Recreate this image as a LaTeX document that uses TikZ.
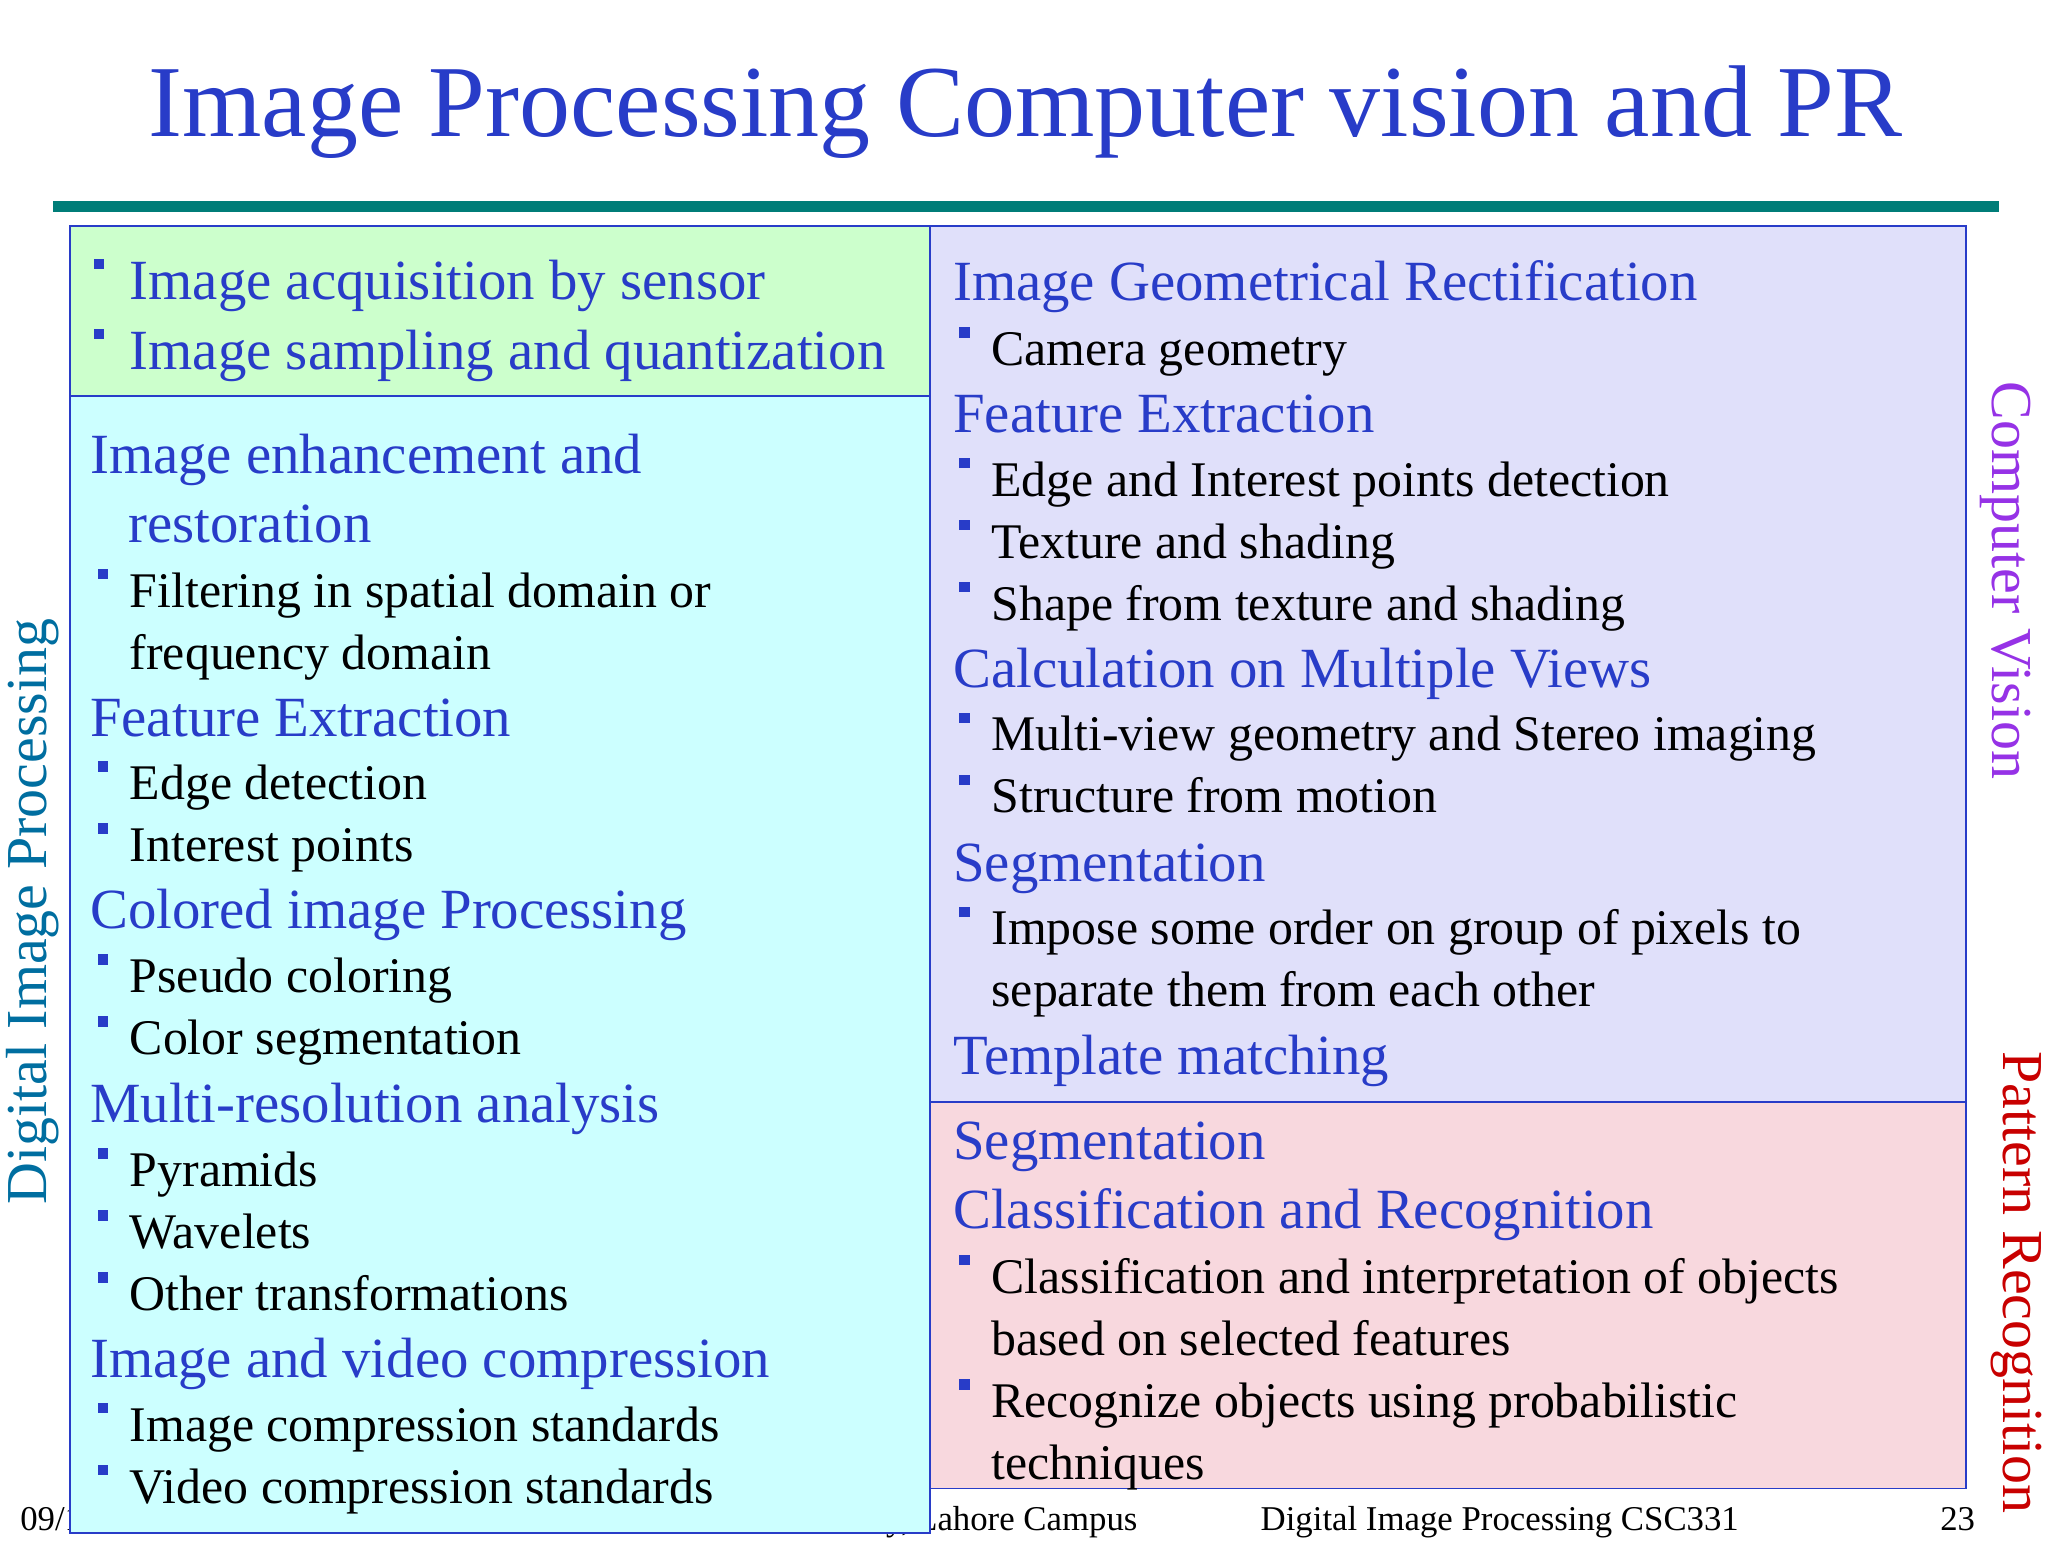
\documentclass[tikz,border=0pt]{standalone}
\usepackage{fontspec}
\setmainfont{Liberation Serif}
\definecolor{hd}{RGB}{40,60,200}
\definecolor{teal1}{RGB}{0,125,120}
\definecolor{dip}{RGB}{0,110,160}
\definecolor{cv}{RGB}{150,50,230}
\definecolor{pr}{RGB}{200,0,0}
\definecolor{gbox}{RGB}{204,255,204}
\definecolor{cbox}{RGB}{204,255,255}
\definecolor{lbox}{RGB}{224,224,250}
\definecolor{pbox}{RGB}{248,216,222}
\tikzset{
 hdtxt/.style={anchor=base west,inner sep=0,text=hd,font=\fontsize{24.5}{28}\selectfont},
 bltxt/.style={anchor=base west,inner sep=0,font=\fontsize{21.5}{25}\selectfont},
 ftxt/.style={anchor=base west,inner sep=0,font=\fontsize{15}{18}\selectfont},
 panel/.style={draw=hd,line width=0.8pt},
 bul/.style={fill=hd}
}
\newcommand{\Hd}[4]{\node[hdtxt] (#1) at (#2,#3+13) {#4};}
\newcommand{\Bl}[5]{\fill[bul] (#2+1,#3-17) rectangle (#2+9,#3-9);\node[bltxt,text=#5] (#1) at (#2+25,#3+12) {#4};}
\newcommand{\Bg}[4]{\fill[bul] (#2+1,#3-19) rectangle (#2+9,#3-11);\node[hdtxt] (#1) at (#2+28,#3+12) {#4};}
\newcommand{\Cn}[5]{\node[bltxt,text=#5] (#1) at (#2,#3+12) {#4};}
\begin{document}
\begin{tikzpicture}[x=0.02cm,y=-0.02cm]
\useasboundingbox (0,0) rectangle (1552,1176);
\node[inner sep=0,text=hd,font=\fontsize{44}{50}\selectfont] (title) at (777,85) {Image Processing Computer vision and PR};
\fill[teal1] (40,152) rectangle (1515,161);
% footer
\node[ftxt] (f1) at (15,1160) {09/10/2023};
\node[ftxt,anchor=base east] (f1b) at (690,1160) {COMSATS University,};
\node[ftxt] (f1c) at (694,1160) {Lahore Campus};
\node[ftxt] (f2) at (955,1160) {Digital Image Processing CSC331};
\node[ftxt] (f3) at (1470,1160) {23};
% panels
\fill[gbox] (53,171) rectangle (705,300);
\fill[cbox] (53,300) rectangle (705,1162);
\fill[lbox] (705,171) rectangle (1490,835);
\fill[pbox] (705,835) rectangle (1490,1128);
\draw[panel] (53,171) rectangle (705,1162);
\draw[panel] (53,300) -- (705,300);
\draw[panel] (705,171) rectangle (1490,1128);
\draw[panel] (705,835) -- (1490,835);
% left
\Bg{a1}{70}{215}{Image acquisition by sensor}
\Bg{a2}{70}{268}{Image sampling and quantization}
\Hd{l1}{68}{346}{Image enhancement and}
\Hd{l2}{97}{398}{restoration}
\Bl{l3}{73}{448}{Filtering in spatial domain or}{black}
\Cn{l4}{98}{495}{frequency domain}{black}
\Hd{l5}{68}{545}{Feature Extraction}
\Bl{l6}{73}{594}{Edge detection}{black}
\Bl{l7}{73}{641}{Interest points}{black}
\Hd{l8}{68}{691}{Colored image Processing}
\Bl{l9}{73}{740}{Pseudo coloring}{black}
\Bl{l10}{73}{787}{Color segmentation}{black}
\Hd{l11}{68}{838}{Multi-resolution analysis}
\Bl{l12}{73}{887}{Pyramids}{black}
\Bl{l13}{73}{934}{Wavelets}{black}
\Bl{l14}{73}{981}{Other transformations}{black}
\Hd{l15}{68}{1031}{Image and video compression}
\Bl{l16}{73}{1080}{Image compression standards}{black}
\Bl{l17}{73}{1127}{Video compression standards}{black}
% right
\Hd{r1}{722}{215}{Image Geometrical Rectification}
\Bl{r2}{726}{265}{Camera geometry}{black}
\Hd{r3}{722}{315}{Feature Extraction}
\Bl{r4}{726}{364}{Edge and Interest points detection}{black}
\Bl{r5}{726}{411}{Texture and shading}{black}
\Bl{r6}{726}{458}{Shape from texture and shading}{black}
\Hd{r7}{722}{508}{Calculation on Multiple Views}
\Bl{r8}{726}{557}{Multi-view geometry and Stereo imaging}{black}
\Bl{r9}{726}{604}{Structure from motion}{black}
\Hd{r10}{722}{655}{Segmentation}
\Bl{r11}{726}{704}{Impose some order on group of pixels to}{black}
\Cn{r12}{751}{751}{separate them from each other}{black}
\Hd{r13}{722}{801}{Template matching}
\Hd{p1}{722}{866}{Segmentation}
\Hd{p2}{722}{918}{Classification and Recognition}
\Bl{p3}{726}{968}{Classification and interpretation of objects}{black}
\Cn{p4}{751}{1015}{based on selected features}{black}
\Bl{p5}{726}{1062}{Recognize objects using probabilistic}{black}
\Cn{p6}{751}{1109}{techniques}{black}
% side labels
\node[rotate=90,inner sep=0,text=dip,font=\fontsize{25}{28}\selectfont] (sdip) at (25,691) {Digital Image Processing};
\node[rotate=-90,inner sep=0,text=cv,font=\fontsize{25}{28}\selectfont] (scv) at (1520,440) {Computer Vision};
\node[rotate=-90,inner sep=0,text=pr,font=\fontsize{25}{28}\selectfont] (spr) at (1528,972) {Pattern Recognition};
\end{tikzpicture}
\end{document}
